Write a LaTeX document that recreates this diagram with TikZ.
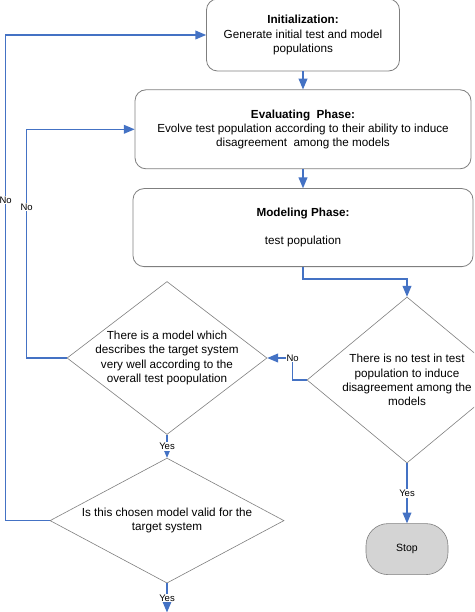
\documentclass[tikz,border=0pt]{standalone}
\usepackage{fontspec}
\setmainfont{Liberation Sans}
\usetikzlibrary{arrows,shapes.geometric,positioning}
\definecolor{flowblue}{HTML}{4472C4}
\definecolor{boxgray}{HTML}{7F7F7F}
\definecolor{stopgray}{HTML}{D4D4D4}

\begin{document}
\begin{tikzpicture}[x=1pt,y=-1pt,>=triangle 45,node distance=18pt,
                    phase/.style={draw=boxgray,line width=0.8pt,rounded corners=11pt,align=center,
                                  inner sep=0pt,font=\fontsize{11.7}{14.3}\selectfont},
                    decision/.style={draw=boxgray,line width=0.6pt,diamond,inner sep=0pt},
                    dtext/.style={align=center,font=\fontsize{11.7}{14.3}\selectfont},
                    stopbox/.style={draw=boxgray,line width=0.6pt,fill=stopgray,rounded corners=22pt,
                                  minimum width=82pt,minimum height=51pt,font=\fontsize{10.5}{12}\selectfont},
                    flow/.style={->,draw=flowblue,line width=1.5pt},
                    lbl/.style={fill=white,inner sep=1pt,font=\fontsize{9.5}{11}\selectfont}]

  \path[use as bounding box,clip] (0,0) rectangle (474,612);

  \node[phase,minimum width=193pt,minimum height=72pt] (init) at (303,35)
        {\textbf{Initialization:}\\Generate initial test and model\\populations};
  \node[phase,minimum width=336pt,minimum height=79pt] (eval) [below=18pt of init]
        {\textbf{Evaluating\ \ Phase:}\\Evolve test population according to their ability to induce\\disagreement\ \ among the models};
  \node[phase,minimum width=340pt,minimum height=78pt] (model) [below=19pt of eval]
        {\textbf{Modeling Phase:}\\[14pt]test population};

  \node[decision,minimum width=200pt,minimum height=166pt,
        label={[dtext]center:{There is no test in test\\population to induce\\disagreement among the\\models}}]
        (nodiv) at (407,380) {};
  \node[decision,minimum width=200pt,minimum height=153pt,
        label={[dtext]center:{There is a model which\\describes the target system\\very well according to the\\overall test poopulation}}]
        (best) at (167,358) {};
  \node[decision,minimum width=234pt,minimum height=125pt,
        label={[dtext]center:{Is this chosen model valid for the\\target system}}]
        (valid) [below=23pt of best] {};
  \node[stopbox] (stop) [below=60pt of nodiv] {Stop};
  \coordinate[below=29pt of valid] (exit);

  \draw[flow] (init) -- (eval);
  \draw[flow] (eval) -- (model);
  \draw[flow] (model.south) -- ++(0,12) -| (nodiv.north);
  \draw[flow] (nodiv.west) -- ++(-14,0) |- node[lbl] {No} (best.east);
  \draw[flow] (best.west) -- ++(-40,0) |- node[lbl,pos=0.33] {No} (eval.west);
  \draw[flow] (valid.west) -- ++(-44,0) |- node[lbl,pos=0.33] {No} (init.west);
  \draw[flow] (best) -- node[lbl] {Yes} (valid);
  \draw[flow] (nodiv) -- node[lbl] {Yes} (stop);
  \draw[flow] (valid) -- node[lbl] {Yes} (exit);

\end{tikzpicture}
\end{document}
